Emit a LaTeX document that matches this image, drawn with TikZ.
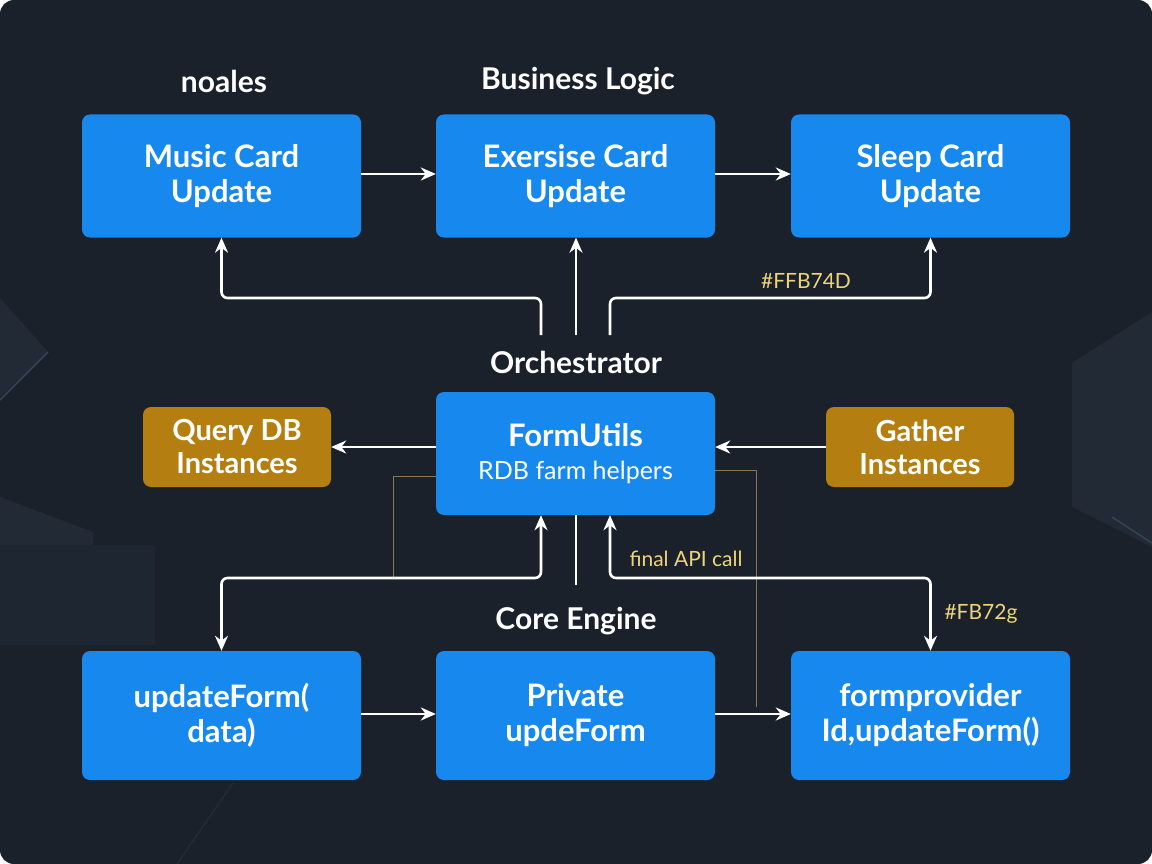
\documentclass[tikz,border=0pt]{standalone}
\usepackage{fontspec}
\setmainfont{Lato}
\usetikzlibrary{arrows.meta}
\definecolor{bgc}{HTML}{1A212B}
\definecolor{facet}{HTML}{212A35}
\definecolor{facetedge}{HTML}{354452}
\definecolor{cardblue}{HTML}{1789EE}
\definecolor{goldbox}{HTML}{B47F10}
\definecolor{labelgold}{HTML}{EDD57A}
\definecolor{thinline}{HTML}{8A7850}
\begin{document}
\begin{tikzpicture}[x=1pt,y=-1pt,
  card/.style={draw=none,fill=cardblue,rounded corners=8pt,minimum width=279pt,minimum height=123pt,
    text=white,align=center,font=\bfseries\fontsize{31}{35}\selectfont,inner sep=0pt},
  goldcard/.style={draw=none,fill=goldbox,rounded corners=8pt,minimum width=188pt,minimum height=80pt,
    text=white,align=center,font=\bfseries\fontsize{29}{33}\selectfont,inner sep=0pt},
  sectitle/.style={text=white,font=\bfseries\fontsize{30}{34}\selectfont,inner sep=0pt},
  note/.style={text=labelgold,font=\fontsize{21}{24}\selectfont,inner sep=0pt},
  conn/.style={draw=white,line width=2.6pt,rounded corners=6pt},
  arr/.style={conn,-{Stealth[length=15pt,width=13pt]}},
  darr/.style={conn,{Stealth[length=15pt,width=13pt]}-{Stealth[length=15pt,width=13pt]}},
  thin/.style={draw=thinline,line width=1pt}
]
\useasboundingbox (0,0) rectangle (1152,864);
\fill[white] (0,0) rectangle (1152,864);
\fill[bgc,rounded corners=14pt] (0,0) rectangle (1152,864);
% faint background facets
\fill[facet] (0,298) -- (48,352) -- (0,397) -- cycle;
\draw[facetedge,line width=1.5pt] (48,352) -- (0,400);
\fill[facet] (0,497) -- (93,532) -- (93,545) -- (0,545) -- cycle;
\fill[facet,opacity=0.6] (0,545) rectangle (155,645);
\fill[facet] (1072,363) -- (1152,312) -- (1152,547) -- (1072,507) -- cycle;
\draw[facetedge,line width=1.5pt] (1112,517) -- (1152,543);
\draw[facet,line width=1.5pt] (233,783) -- (177,864);

% titles
\node[sectitle] (t1) at (224,81) {noales};
\node[sectitle] (t2) at (578,81) {Business Logic};
\node[sectitle] (t3) at (576,362) {Orchestrator};
\node[sectitle] (t4) at (576,621) {Core Engine};

% cards
\node[card] (music) at (221.5,176) {Music Card\\Update};
\node[card] (exer) at (575.5,176) {Exersise Card\\Update};
\node[card] (sleep) at (930.5,176) {Sleep Card\\Update};
\node[card] (form) at (575.5,453.5) {FormUtils\\[-2pt]{\mdseries\fontsize{25}{29}\selectfont RDB farm helpers}};
\node[goldcard] (query) at (237,447) {Query DB\\Instances};
\node[goldcard] (gather) at (920,447) {Gather\\Instances};
\node[card,minimum height=129pt] (upd) at (221.5,715.5) {updateForm(\\data)};
\node[card,minimum height=129pt] (priv) at (575.5,715.5) {Private\\updeForm};
\node[card,minimum height=129pt] (prov) at (930.5,715.5) {formprovider\\Id,updateForm()};

% helper coordinates
\coordinate (o1) at (541,335);
\coordinate (o2) at (576,335);
\coordinate (o3) at (610,335);
\coordinate (c1) at (576,585);
\coordinate (tl) at (393,578);
\coordinate (tr) at (756,707);

% thin gold lines
\draw[thin] (form.west |- 0,476) -| (tl);
\draw[thin] (form.east |- 0,470) -| (tr);

% connectors
\draw[arr] (music.east |- 0,174) -- (exer.west |- 0,174);
\draw[arr] (exer.east |- 0,174) -- (sleep.west |- 0,174);
\draw[arr] (o1) -- (541,298) -| (music.south);
\draw[arr] (o2) -- (exer.south -| o2);
\draw[arr] (o3) -- (610,298) -| (sleep.south);
\draw[arr] (form.west |- 0,447) -- (query.east |- 0,447);
\draw[arr] (gather.west |- 0,447) -- (form.east |- 0,447);
\draw[conn] (form.south -| c1) -- (c1);
\draw[darr] (form.south -| 541,0) -- (541,578) -| (upd.north);
\draw[darr] (form.south -| 610,0) -- (610,578) -| (prov.north);
\draw[arr] (upd.east |- 0,714) -- (priv.west |- 0,714);
\draw[arr] (priv.east |- 0,714) -- (prov.west |- 0,714);

% notes
\node[note] (n1) at (806,281) {\#FFB74D};
\node[note] (n2) at (686,559) {final API call};
\node[note] (n3) at (981,614) {\#FB72g};
\end{tikzpicture}
\end{document}
